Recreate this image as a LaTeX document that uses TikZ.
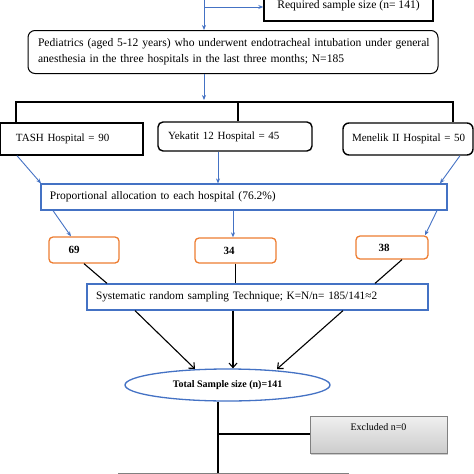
\documentclass[tikz,border=0pt]{standalone}
\usepackage{fontspec}
\setmainfont{Liberation Serif}
\usetikzlibrary{arrows.meta,shapes.geometric,shadows}
\definecolor{bl}{HTML}{4472C4}
\definecolor{orng}{HTML}{ED7D31}
\tikzset{
  blarrow/.style={draw=bl,line width=0.9pt,-{Stealth[length=5pt,width=4pt]}},
  blkarrow/.style={draw=black,line width=1.1pt,-{Straight Barb[length=4.5pt,width=8pt,line width=1.1pt]}},
  blkline/.style={draw=black,line width=1.1pt},
  txt/.style={font=\fontsize{11}{13.5}\selectfont},
  hbox/.style={draw=black,line width=1.4pt,txt,inner sep=0pt,align=left},
  bluebox/.style={draw=bl,line width=1.2pt,txt,inner sep=0pt,align=left},
  obox/.style={draw=orng,line width=1.3pt,rounded corners=4pt,font=\fontsize{11}{13}\selectfont\bfseries,inner sep=0pt},
}
\newcommand{\pad}[1]{\hspace*{#1}}
\begin{document}
\begin{tikzpicture}[x=1pt,y=-1pt]
\useasboundingbox (0,0) rectangle (474,474);
\clip (0,0) rectangle (474,474);
% top
\node[hbox,minimum width=169pt,minimum height=31pt,font=\fontsize{11.6}{13}\selectfont,align=center] (req) at (348.5,5.5) {Required sample size (n= 141)};
\node[hbox,line width=1pt,rounded corners=7pt,minimum width=410pt,minimum height=43pt,text width=410pt,font=\fontsize{11.6}{16}\selectfont] (ped) at (233,52) {\pad{10pt}Pediatrics (aged 5-12 years) who underwent endotracheal intubation under general\\ \pad{10pt}anesthesia in the three hospitals in the last three months; N=185};
\coordinate (topA) at (204,-5);
\coordinate (topB) at (204,7);
\draw[blarrow,-] (topA) -- (topB);
\draw[blarrow] (topB) -- (req.west |- topB);
\draw[blarrow] (topB) -- (ped.north -| topB);
% hospitals
\node[hbox,minimum width=143pt,minimum height=32pt,text width=143pt] (tash) at (71.5,139) {\pad{16pt}TASH Hospital = 90};
\node[hbox,rounded corners=5pt,minimum width=154pt,minimum height=29pt,text width=154pt] (yek) at (235,136.5) {\pad{10pt}Yekatit 12 Hospital = 45};
\node[hbox,rounded corners=6pt,minimum width=130pt,minimum height=32pt,text width=130pt] (men) at (408,139) {\pad{9pt}Menelik II Hospital = 50};
\coordinate (split) at (204,100);
\coordinate (hL) at (16,102);
\coordinate (hM) at (238,102);
\coordinate (hR) at (453,102);
\draw[blarrow] (ped.south -| split) -- (split);
\draw[blkline] (tash.north -| hL) -- (hL) -- (hR) -- (men.north -| hR);
\draw[blkline] (hM) -- (yek.north -| hM);
% proportional
\node[bluebox,minimum width=406pt,minimum height=26pt,text width=406pt,font=\fontsize{11.5}{13}\selectfont] (prop) at (244,197) {\pad{9pt}Proportional allocation to each hospital (76.2\%)};
\draw[blarrow] ([xshift=-54.5pt]tash.south) -- ([xshift=-203pt]prop.north);
\draw[blarrow] ([xshift=-17pt]yek.south) -- (prop.north -| 218,0);
\draw[blarrow] ([xshift=52pt]men.south) -- ([xshift=196pt]prop.north);
% orange
\node[obox,minimum width=70pt,minimum height=26pt] (o1) at (84,250) {\hspace*{-20pt}69};
\node[obox,minimum width=81pt,minimum height=25pt] (o2) at (235.5,250.5) {\hspace*{-13pt}34};
\node[obox,minimum width=72pt,minimum height=23pt] (o3) at (392,247.5) {\hspace*{-16pt}38};
\draw[blarrow] ([xshift=-191pt]prop.south) -- ([xshift=-13pt]o1.north);
\draw[blarrow] (prop.south -| 233,0) -- (o2.north -| 233,0);
\draw[blarrow] ([xshift=193pt]prop.south) -- ([xshift=33pt]o3.north);
% systematic
\node[bluebox,minimum width=341pt,minimum height=26pt,text width=341pt,font=\fontsize{11.3}{13}\selectfont] (sys) at (257.5,297) {\pad{9pt}Systematic random sampling Technique; K=N/n= 185/141≈2};
\draw[blkline] (o1.south) -- ([xshift=-150.5pt]sys.north);
\draw[blkline] (o2.south) -- (sys.north -| o2.south);
\draw[blkline] ([xshift=10pt]o3.south) -- ([xshift=117.5pt]sys.north);
% ellipse
\node[ellipse,draw=bl,line width=1.3pt,minimum width=205pt,minimum height=32pt,inner sep=0pt,font=\fontsize{10}{12}\selectfont\bfseries] (tot) at (227.5,385) {Total Sample size (n)=141};
\draw[blkarrow] ([xshift=-122.5pt]sys.south) -- (195,369);
\draw[blkarrow] (sys.south -| 233,0) -- (tot.north -| 233,0);
\draw[blkarrow] ([xshift=85.5pt]sys.south) -- (277,369);
% excluded
\node[draw=gray,line width=1pt,top color=gray!12,bottom color=gray!40,drop shadow={shadow xshift=1pt,shadow yshift=-1.5pt,opacity=0.4},minimum width=137pt,minimum height=37pt,inner sep=0pt] (exc) at (378.5,434.5) {};
\node[font=\fontsize{10}{12}\selectfont,anchor=north] (exct) at (378.5,420) {Excluded n=0};
\coordinate (vb) at (218,480);
\coordinate (br) at (218,434);
\draw[blkline] (tot.south -| vb) -- (vb);
\draw[blkline] (br) -- (exc.west |- br);
% bottom box (cut off)
\node[draw=gray,line width=1.4pt,minimum width=230pt,minimum height=30pt,anchor=north west] (bot) at (118,473) {};
\end{tikzpicture}
\end{document}
